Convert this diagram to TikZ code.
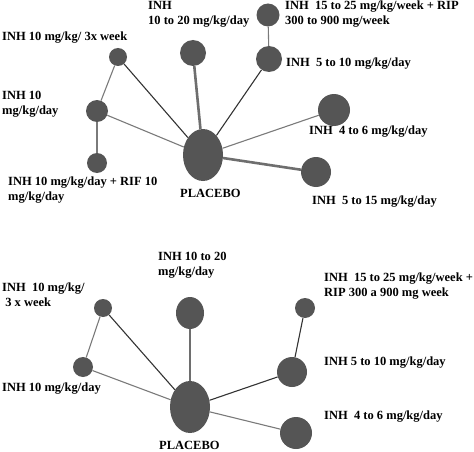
\documentclass[tikz,border=0pt]{standalone}
\usepackage{fontspec}
\setmainfont{Liberation Serif}
\usetikzlibrary{shapes.geometric}
\definecolor{nodegray}{HTML}{555555}
\definecolor{edgedark}{HTML}{333333}
\definecolor{edgegray}{HTML}{7A7A7A}
\tikzset{
  trt/.style={circle, fill=nodegray, inner sep=0pt, minimum size=#1},
  plc/.style={ellipse, fill=nodegray, inner sep=0pt, minimum width=#1},
  lbl/.style={font=\fontsize{12.5}{15}\selectfont\bfseries, inner sep=0pt, align=left, anchor=west},
  darkedge/.style={draw=edgedark, line width=1.1pt},
  grayedge/.style={draw=edgegray, line width=1.1pt},
  thickedge/.style={draw=edgegray!90!black, line width=2.6pt}
}

\begin{document}
\begin{tikzpicture}[x=1pt, y=-1pt]
      \useasboundingbox (0,0) rectangle (474,452);

      % upper network
      \node[plc=40pt, minimum height=52pt] (Pa) at (203,155) {};
      \node[trt=18pt] (wka) at (118,57) {};
      \node[trt=22pt] (dya) at (97,111) {};
      \node[trt=20pt] (rfa) at (97,163) {};
      \node[trt=26pt] (hia) at (193,53) {};
      \node[trt=23pt] (rpa) at (268,15) {};
      \node[trt=26pt] (mda) at (269,59) {};
      \node[trt=32pt] (loa) at (334,110) {};
      \node[trt=30pt] (wda) at (316,172) {};

      \draw[grayedge] (wka) -- (dya);
      \draw[darkedge] (wka) -- (Pa);
      \draw[grayedge] (dya) -- (rfa);
      \draw[grayedge] (dya) -- (Pa);
      \draw[thickedge] (hia) -- (Pa);
      \draw[darkedge] (mda) -- (Pa);
      \draw[grayedge] (rpa) -- (mda);
      \draw[grayedge] (loa) -- (Pa);
      \draw[thickedge] (wda) -- (Pa);

      \node[lbl] (lPa) at (180,193) {PLACEBO};
      \node[lbl] (lwka) at (2,38) {INH 10 mg/kg/ 3x week};
      \node[lbl] (ldya) at (2,104.5) {INH 10\\mg/kg/day};
      \node[lbl] (lrfa) at (8,190.5) {INH 10 mg/kg/day + RIF 10\\mg/kg/day};
      \node[lbl] (lhia) at (148,14) {INH\\10 to 20 mg/kg/day};
      \node[lbl] (lrpa) at (285,14) {INH\ \ 15 to 25 mg/kg/week + RIP\\300 to 900 mg/week};
      \node[lbl] (lmda) at (286,64) {INH\ \ 5 to 10 mg/kg/day};
      \node[lbl] (lloa) at (309,132) {INH\ \ 4 to 6 mg/kg/day};
      \node[lbl] (lwda) at (312,202) {INH\ \ 5 to 15 mg/kg/day};

      % lower network
      \node[plc=40pt, minimum height=52pt] (Pb) at (190,407) {};
      \node[trt=18pt] (wkb) at (103,308) {};
      \node[trt=20pt] (dyb) at (83,367) {};
      \node[plc=28pt, minimum height=32pt] (hib) at (190,313) {};
      \node[trt=20pt] (rpb) at (305,308) {};
      \node[trt=30pt] (mdb) at (292,372) {};
      \node[trt=32pt] (lob) at (296,433) {};

      \draw[grayedge] (wkb) -- (dyb);
      \draw[darkedge] (wkb) -- (Pb);
      \draw[grayedge] (dyb) -- (Pb);
      \draw[thickedge] (hib) -- (Pb);
      \draw[darkedge] (Pb) -- (mdb);
      \draw[darkedge] (rpb) -- (mdb);
      \draw[grayedge] (Pb) -- (lob);

      \node[lbl] (lPb) at (159,445) {PLACEBO};
      \node[lbl] (lwkb) at (2,295) {INH\ \ 10 mg/kg/\\\ 3 x week};
      \node[lbl] (ldyb) at (2,389) {INH 10 mg/kg/day};
      \node[lbl] (lhib) at (158,265.5) {INH 10 to 20\\mg/kg/day};
      \node[lbl] (lrpb) at (324,286.5) {INH\ \ 15 to 25 mg/kg/week +\\RIP 300 a 900 mg week};
      \node[lbl] (lmdb) at (324,363) {INH 5 to 10 mg/kg/day};
      \node[lbl] (llob) at (324,417) {INH\ \ 4 to 6 mg/kg/day};
\end{tikzpicture}
\end{document}
